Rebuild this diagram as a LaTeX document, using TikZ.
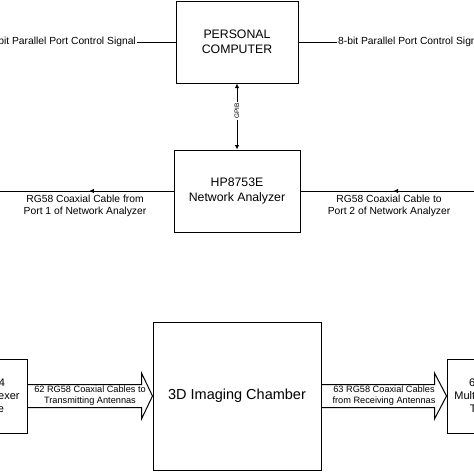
\documentclass[tikz,border=0pt]{standalone}
\usepackage{fontspec}
\setmainfont{Liberation Sans}
\usetikzlibrary{calc, arrows.meta, decorations.markings, positioning}

\begin{document}
\begin{tikzpicture}[
                        x=1pt, y=-1pt,
                        font        = \fontsize{10.3}{12}\selectfont,
                        box/.style  = {draw, line width=1pt, align=center, inner sep=2pt,
                                     font=\fontsize{12.3}{14.5}\selectfont},
                        mux/.style  = {box, minimum width=68pt, minimum height=74pt,
                                     font=\fontsize{11}{13}\selectfont},
                        lbl/.style  = {align=center, inner sep=1pt},
                        cbl/.style  = {lbl, font=\fontsize{9.2}{11}\selectfont},
                        ln/.style   = {line width=1pt},
                        midtip/.style = {ln, postaction={decorate},
                                     decoration={markings, mark=at position #1 with {\arrow{Latex[length=4.5pt,width=4.5pt]}}}},
                        blk/.style  = {ln, line join=miter},
                        ar/.style   = {{Latex[length=4.5pt,width=4.5pt]}-{Latex[length=4.5pt,width=4.5pt]}, ln}
                  ]
                  \useasboundingbox (0,0) rectangle (474,474);
                  \clip (0,0) rectangle (474,474);

                  \node[box, minimum width=122pt, minimum height=82pt] (pc) at (237,42) {PERSONAL\\COMPUTER};
                  \node[box, minimum width=126pt, minimum height=82pt] (hp) at (237,191) {HP8753E\\Network Analyzer};
                  \node[box, minimum width=168pt, minimum height=148pt,
                        font=\fontsize{14.5}{17}\selectfont] (chamber) at (237,396) {3D Imaging Chamber};
                  \node[mux] (muxl) at (-7,396) {1x64\\Multiplexer\\Tree};
                  \node[mux] (muxr) at (481,396) {64x1\\Multiplexer\\Tree};

                  % parallel port lines
                  \node[lbl, anchor=east] (sigl) at (137,42) {8-bit Parallel Port Control Signal};
                  \node[lbl, anchor=west] (sigr) at (337,42) {8-bit Parallel Port Control Signal};
                  \draw[ln] (sigl) -- (pc);
                  \draw[ln] (pc) -- (sigr);

                  \draw[ar] (pc) -- (hp) node[pos=0.42, fill=white, rotate=90, inner sep=1pt,
                                               font=\fontsize{6.5}{7}\selectfont] (gpib) {GPIB};

                  % network analyzer ports
                  \coordinate (port1) at (-2,191);
                  \coordinate (port2) at (476,191);
                  \draw[midtip=0.48] (hp.west) -- (port1);
                  \draw[midtip=0.47] (port2) -- (hp.east);
                  \node[lbl] (rgl) at (85,206) {RG58 Coaxial Cable from\\Port 1 of Network Analyzer};
                  \node[lbl] (rgr) at (389,206) {RG58 Coaxial Cable to\\Port 2 of Network Analyzer};

                  % block arrows
                  \draw[blk] ($(muxl.east)+(0,-11.5)$) -- ($(chamber.west)+(-11,-11.5)$) -- ($(chamber.west)+(-11,-23)$)
                        -- (chamber.west) -- ($(chamber.west)+(-11,23)$) -- ($(chamber.west)+(-11,11.5)$) -- ($(muxl.east)+(0,11.5)$);
                  \draw[blk] ($(chamber.east)+(0,-11.5)$) -- ($(muxr.west)+(-12,-11.5)$) -- ($(muxr.west)+(-12,-23)$)
                        -- (muxr.west) -- ($(muxr.west)+(-12,23)$) -- ($(muxr.west)+(-12,11.5)$) -- ($(chamber.east)+(0,11.5)$);
                  \node[cbl] (txl) at ($(muxl.east)!0.5!(chamber.west)$) {62 RG58 Coaxial Cables to\\Transmitting Antennas};
                  \node[cbl] (rxl) at ($(chamber.east)!0.5!(muxr.west)$) {63 RG58 Coaxial Cables\\from Receiving Antennas};
            \end{tikzpicture}
\end{document}
